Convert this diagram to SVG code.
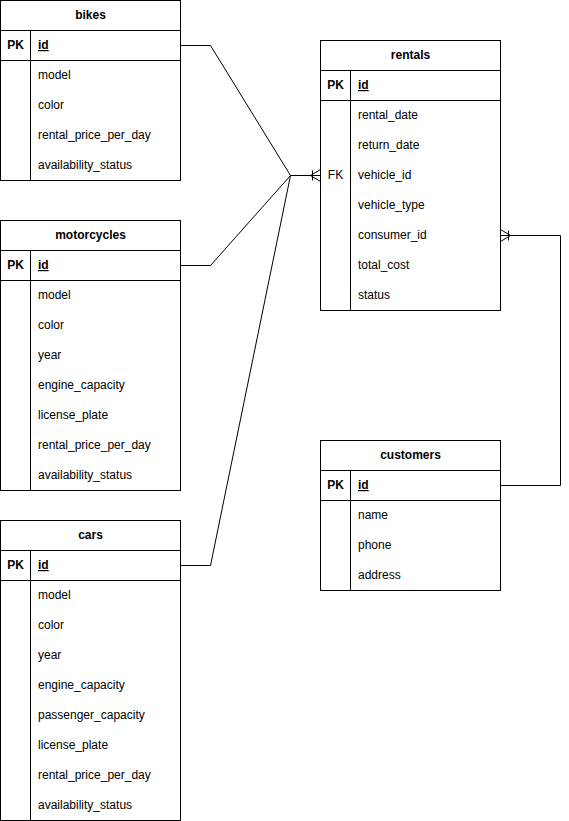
<svg xmlns="http://www.w3.org/2000/svg" width="569" height="821" viewBox="0 0 569 821">
<style>
.box{fill:#fff;stroke:#000;stroke-width:1}
.ln{stroke:#000;stroke-width:1;fill:none}
text{font-family:"Liberation Sans",Arial,sans-serif;font-size:12px;fill:#000}
.h{font-weight:bold;text-anchor:middle}
.k{font-weight:bold;text-anchor:middle}
.id{font-weight:bold;text-decoration:underline}
.fk{text-anchor:middle}
</style>
<rect width="569" height="821" fill="#fff"/>
<g id="connectors" class="ln">
<polyline points="180.5,45.5 210.5,45.5 290.5,175.5 320.5,175.5"/>
<polyline points="180.5,265.5 210.5,265.5 290.5,175.5"/>
<polyline points="180.5,565.5 210.5,565.5 290.5,175.5"/>
<path d="M312.5,170.5 V180.5 M310.5,175.5 L320.5,169.5 M310.5,175.5 L320.5,181.5"/>
<polyline points="500.5,485.5 560.5,485.5 560.5,235.5 500.5,235.5"/>
<path d="M508.5,230.5 V240.5 M510.5,235.5 L500.5,229.5 M510.5,235.5 L500.5,241.5"/>
</g>
<g id="bikes">
<rect class="box" x="0.5" y="0.5" width="180" height="180"/>
<path class="ln" d="M0.5,30.5H180.5M0.5,60.5H180.5M30.5,30.5V180.5"/>
<text class="h" x="90.5" y="19">bikes</text>
<text class="k" x="15.5" y="49">PK</text>
<text class="id" x="38" y="49">id</text>
<text x="38" y="79">model</text>
<text x="38" y="109">color</text>
<text x="38" y="139">rental_price_per_day</text>
<text x="38" y="169">availability_status</text>
</g>
<g id="motorcycles">
<rect class="box" x="0.5" y="220.5" width="180" height="270"/>
<path class="ln" d="M0.5,250.5H180.5M0.5,280.5H180.5M30.5,250.5V490.5"/>
<text class="h" x="90.5" y="239">motorcycles</text>
<text class="k" x="15.5" y="269">PK</text>
<text class="id" x="38" y="269">id</text>
<text x="38" y="299">model</text>
<text x="38" y="329">color</text>
<text x="38" y="359">year</text>
<text x="38" y="389">engine_capacity</text>
<text x="38" y="419">license_plate</text>
<text x="38" y="449">rental_price_per_day</text>
<text x="38" y="479">availability_status</text>
</g>
<g id="cars">
<rect class="box" x="0.5" y="520.5" width="180" height="300"/>
<path class="ln" d="M0.5,550.5H180.5M0.5,580.5H180.5M30.5,550.5V820.5"/>
<text class="h" x="90.5" y="539">cars</text>
<text class="k" x="15.5" y="569">PK</text>
<text class="id" x="38" y="569">id</text>
<text x="38" y="599">model</text>
<text x="38" y="629">color</text>
<text x="38" y="659">year</text>
<text x="38" y="689">engine_capacity</text>
<text x="38" y="719">passenger_capacity</text>
<text x="38" y="749">license_plate</text>
<text x="38" y="779">rental_price_per_day</text>
<text x="38" y="809">availability_status</text>
</g>
<g id="rentals">
<rect class="box" x="320.5" y="40.5" width="180" height="270"/>
<path class="ln" d="M320.5,70.5H500.5M320.5,100.5H500.5M350.5,70.5V310.5"/>
<text class="h" x="410.5" y="59">rentals</text>
<text class="k" x="335.5" y="89">PK</text>
<text class="id" x="358" y="89">id</text>
<text x="358" y="119">rental_date</text>
<text x="358" y="149">return_date</text>
<text class="fk" x="335.5" y="179">FK</text>
<text x="358" y="179">vehicle_id</text>
<text x="358" y="209">vehicle_type</text>
<text x="358" y="239">consumer_id</text>
<text x="358" y="269">total_cost</text>
<text x="358" y="299">status</text>
</g>
<g id="customers">
<rect class="box" x="320.5" y="440.5" width="180" height="150"/>
<path class="ln" d="M320.5,470.5H500.5M320.5,500.5H500.5M350.5,470.5V590.5"/>
<text class="h" x="410.5" y="459">customers</text>
<text class="k" x="335.5" y="489">PK</text>
<text class="id" x="358" y="489">id</text>
<text x="358" y="519">name</text>
<text x="358" y="549">phone</text>
<text x="358" y="579">address</text>
</g>
</svg>
